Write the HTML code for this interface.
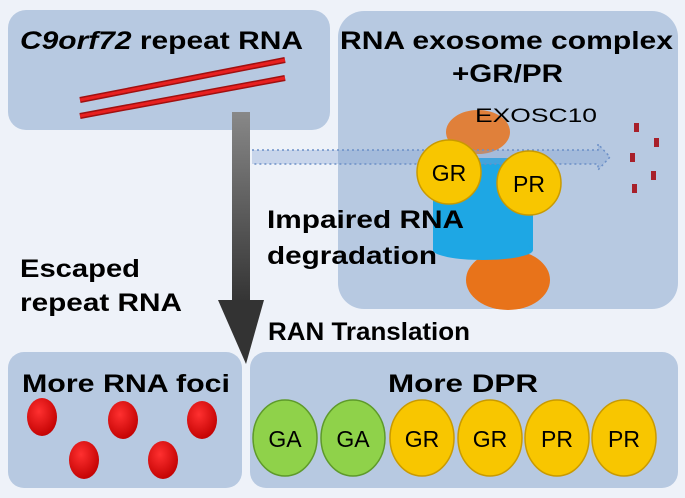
<!DOCTYPE html>
<html><head><style>
body{margin:0;background:#eef2f9;}
svg{display:block;font-family:"Liberation Sans",Arial,sans-serif;}
</style></head><body>
<svg width="685" height="498" viewBox="0 0 685 498">
<defs>
<linearGradient id="ar" x1="0" y1="0" x2="0" y2="1"><stop offset="0" stop-color="#888"/><stop offset="1" stop-color="#333"/></linearGradient>
<radialGradient id="rd" cx="0.4" cy="0.35" r="0.7"><stop offset="0" stop-color="#ff3030"/><stop offset="1" stop-color="#c00000"/></radialGradient>
</defs>
<rect width="685" height="498" fill="#eef2f9"/>
<rect x="8" y="10" width="322" height="120" rx="18" fill="#b7c9e1"/>
<rect x="338" y="11" width="340" height="298" rx="26" fill="#b7c9e1"/>
<rect x="8" y="352" width="234" height="136" rx="16" fill="#b7c9e1"/>
<rect x="250" y="352" width="428" height="136" rx="16" fill="#b7c9e1"/>
<g stroke="#a01010" stroke-width="6"><line x1="80" y1="100" x2="285" y2="60"/><line x1="80" y1="116" x2="285" y2="78"/></g>
<g stroke="#e82020" stroke-width="3"><line x1="80" y1="100" x2="285" y2="60"/><line x1="80" y1="116" x2="285" y2="78"/></g>
<g font-size="25" font-weight="bold">
<text x="20" y="49" textLength="283" lengthAdjust="spacingAndGlyphs"><tspan font-style="italic">C9orf72</tspan> repeat RNA</text>
<text x="340" y="49" textLength="333" lengthAdjust="spacingAndGlyphs">RNA exosome complex</text>
<text x="452" y="82" textLength="111" lengthAdjust="spacingAndGlyphs">+GR/PR</text>
</g>
<rect x="232" y="112" width="18" height="192" fill="url(#ar)"/>
<polygon points="218,300 264,300 246,364" fill="#333"/>
<ellipse cx="478" cy="132" rx="32" ry="22" fill="#e0803a"/>
<ellipse cx="508" cy="280" rx="42" ry="30" fill="#e8731a"/>
<rect x="433" y="158" width="100" height="92" fill="#1ea7e4"/>
<ellipse cx="483" cy="250" rx="50" ry="10" fill="#1ea7e4"/>
<text x="475" y="122" font-size="19" textLength="122" lengthAdjust="spacingAndGlyphs">EXOSC10</text>
<path d="M252 150 H598 V144 L610 157 L598 170 V164 H252" fill="rgba(130,160,210,0.35)" stroke="#6b8fc7" stroke-width="1.5" stroke-dasharray="2,3"/>
<circle cx="449" cy="172" r="32" fill="#f8c600" stroke="#c99a00" stroke-width="1.5"/>
<circle cx="529" cy="183" r="32" fill="#f8c600" stroke="#c99a00" stroke-width="1.5"/>
<text x="449" y="181" font-size="23" text-anchor="middle">GR</text>
<text x="529" y="192" font-size="23" text-anchor="middle">PR</text>
<g fill="#a8202a"><rect x="634" y="123" width="5" height="9"/><rect x="654" y="138" width="5" height="9"/><rect x="630" y="153" width="5" height="9"/><rect x="651" y="171" width="5" height="9"/><rect x="632" y="184" width="5" height="9"/></g>
<g font-size="25" font-weight="bold" lengthAdjust="spacingAndGlyphs">
<text x="267" y="228" textLength="197" lengthAdjust="spacingAndGlyphs">Impaired RNA</text>
<text x="267" y="264" textLength="170" lengthAdjust="spacingAndGlyphs">degradation</text>
<text x="20" y="277" textLength="120" lengthAdjust="spacingAndGlyphs">Escaped</text>
<text x="20" y="311" textLength="162" lengthAdjust="spacingAndGlyphs">repeat RNA</text>
<text x="268" y="340" textLength="202" lengthAdjust="spacingAndGlyphs">RAN Translation</text>
<text x="22" y="392" textLength="208" lengthAdjust="spacingAndGlyphs">More RNA foci</text>
<text x="388" y="392" textLength="150" lengthAdjust="spacingAndGlyphs">More DPR</text>
</g>
<g fill="url(#rd)"><ellipse cx="42" cy="417" rx="15" ry="19"/><ellipse cx="123" cy="420" rx="15" ry="19"/><ellipse cx="202" cy="420" rx="15" ry="19"/><ellipse cx="84" cy="460" rx="15" ry="19"/><ellipse cx="163" cy="460" rx="15" ry="19"/></g>
<g stroke-width="1.5" font-size="23" text-anchor="middle">
<ellipse cx="285" cy="438" rx="32" ry="38" fill="#8fd24a" stroke="#5e9a2a"/>
<ellipse cx="353" cy="438" rx="32" ry="38" fill="#8fd24a" stroke="#5e9a2a"/>
<ellipse cx="422" cy="438" rx="32" ry="38" fill="#f8c600" stroke="#c99a00"/>
<ellipse cx="490" cy="438" rx="32" ry="38" fill="#f8c600" stroke="#c99a00"/>
<ellipse cx="557" cy="438" rx="32" ry="38" fill="#f8c600" stroke="#c99a00"/>
<ellipse cx="624" cy="438" rx="32" ry="38" fill="#f8c600" stroke="#c99a00"/>
<text x="285" y="447" stroke="none">GA</text><text x="353" y="447" stroke="none">GA</text>
<text x="422" y="447" stroke="none">GR</text><text x="490" y="447" stroke="none">GR</text>
<text x="557" y="447" stroke="none">PR</text><text x="624" y="447" stroke="none">PR</text>
</g>
</svg>
</body></html>
